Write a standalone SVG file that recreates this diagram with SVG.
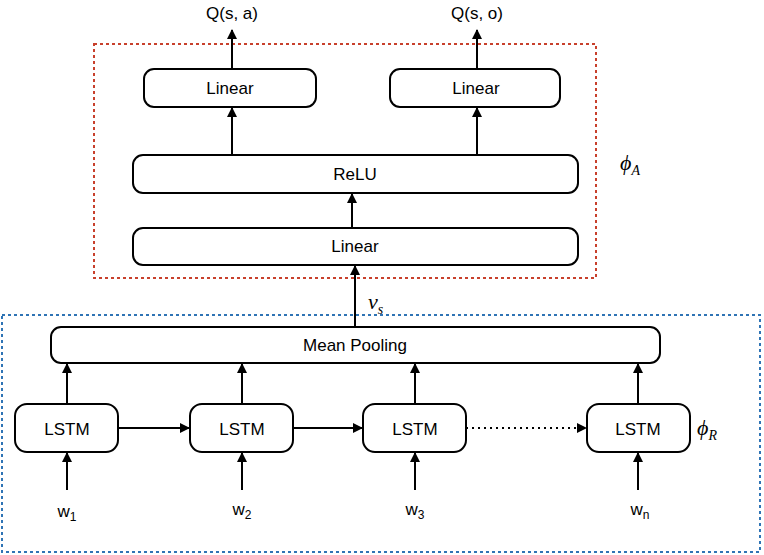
<svg xmlns="http://www.w3.org/2000/svg" width="764" height="555" viewBox="0 0 764 555">
<style>
.n{fill:#fff;stroke:#000;stroke-width:2}
.t{font-family:"Liberation Sans",Arial,sans-serif;font-size:17px;text-anchor:middle;fill:#000}
.c line{stroke:#000;stroke-width:2}
.m{font-family:"Liberation Serif",serif;font-style:italic;font-size:22px}
</style>
<defs><marker id="a" viewBox="0 0 10 10" refX="9" refY="5" markerWidth="5" markerHeight="5" orient="auto"><path d="M0,0L10,5L0,10z" fill="#000"/></marker></defs>
<rect x="94" y="44" width="502" height="234" fill="none" stroke="#c8402c" stroke-width="2" stroke-dasharray="3,3"/>
<rect x="2" y="315" width="758" height="237" fill="none" stroke="#2f74b5" stroke-width="2" stroke-dasharray="3,3"/>
<g id="qa"><text class="t" x="232" y="19">Q(s, a)</text></g>
<g id="qo"><text class="t" x="477" y="19">Q(s, o)</text></g>
<g id="lin1"><rect class="n" x="144" y="69" width="172" height="38" rx="10"/><text class="t" x="230" y="94">Linear</text></g>
<g id="lin2"><rect class="n" x="390" y="69" width="170" height="38" rx="10"/><text class="t" x="476" y="94">Linear</text></g>
<g id="relu"><rect class="n" x="133" y="155" width="445" height="38" rx="10"/><text class="t" x="355" y="180">ReLU</text></g>
<g id="lin0"><rect class="n" x="133" y="228" width="445" height="37" rx="10"/><text class="t" x="355" y="252">Linear</text></g>
<g id="pool"><rect class="n" x="51" y="327" width="609" height="36" rx="10"/><text class="t" x="355" y="351">Mean Pooling</text></g>
<g id="l1"><rect class="n" x="15" y="404" width="103" height="48" rx="12"/><text class="t" x="67" y="435">LSTM</text></g>
<g id="l2"><rect class="n" x="190" y="404" width="103" height="48" rx="12"/><text class="t" x="242" y="435">LSTM</text></g>
<g id="l3"><rect class="n" x="363" y="404" width="103" height="48" rx="12"/><text class="t" x="415" y="435">LSTM</text></g>
<g id="l4"><rect class="n" x="587" y="404" width="103" height="48" rx="12"/><text class="t" x="638" y="435">LSTM</text></g>
<g id="w"><text class="t" x="67" y="517">w<tspan font-size="12" dy="4">1</tspan></text>
<text class="t" x="242" y="515">w<tspan font-size="12" dy="4">2</tspan></text>
<text class="t" x="415" y="515">w<tspan font-size="12" dy="4">3</tspan></text>
<text class="t" x="640" y="515">w<tspan font-size="12" dy="4">n</tspan></text></g>
<g id="labels"><text class="m" x="368" y="309">v<tspan font-size="14" dy="5">s</tspan></text>
<text class="m" x="620" y="170">ϕ<tspan font-size="14" dy="5">A</tspan></text>
<text class="m" x="697" y="435">ϕ<tspan font-size="14" dy="5">R</tspan></text></g>
<g class="c" marker-end="url(#a)">
<line x1="232" y1="69" x2="232" y2="30" marker-end="url(#a)"/>
<line x1="477" y1="69" x2="477" y2="30" marker-end="url(#a)"/>
<line x1="232" y1="155" x2="232" y2="108" marker-end="url(#a)"/>
<line x1="477" y1="155" x2="477" y2="108" marker-end="url(#a)"/>
<line x1="352" y1="228" x2="352" y2="194" marker-end="url(#a)"/>
<line x1="355" y1="327" x2="355" y2="266" marker-end="url(#a)"/>
<line x1="67" y1="404" x2="67" y2="364" marker-end="url(#a)"/>
<line x1="242" y1="404" x2="242" y2="364" marker-end="url(#a)"/>
<line x1="415" y1="404" x2="415" y2="364" marker-end="url(#a)"/>
<line x1="638" y1="404" x2="638" y2="364" marker-end="url(#a)"/>
<line x1="67" y1="490" x2="67" y2="453" marker-end="url(#a)"/>
<line x1="242" y1="490" x2="242" y2="453" marker-end="url(#a)"/>
<line x1="415" y1="490" x2="415" y2="453" marker-end="url(#a)"/>
<line x1="638" y1="490" x2="638" y2="453" marker-end="url(#a)"/>
<line x1="118" y1="428" x2="189" y2="428" marker-end="url(#a)"/>
<line x1="293" y1="428" x2="362" y2="428" marker-end="url(#a)"/>
<line x1="466" y1="428" x2="586" y2="428" stroke-dasharray="2,4" marker-end="url(#a)"/>
</g>
</svg>
